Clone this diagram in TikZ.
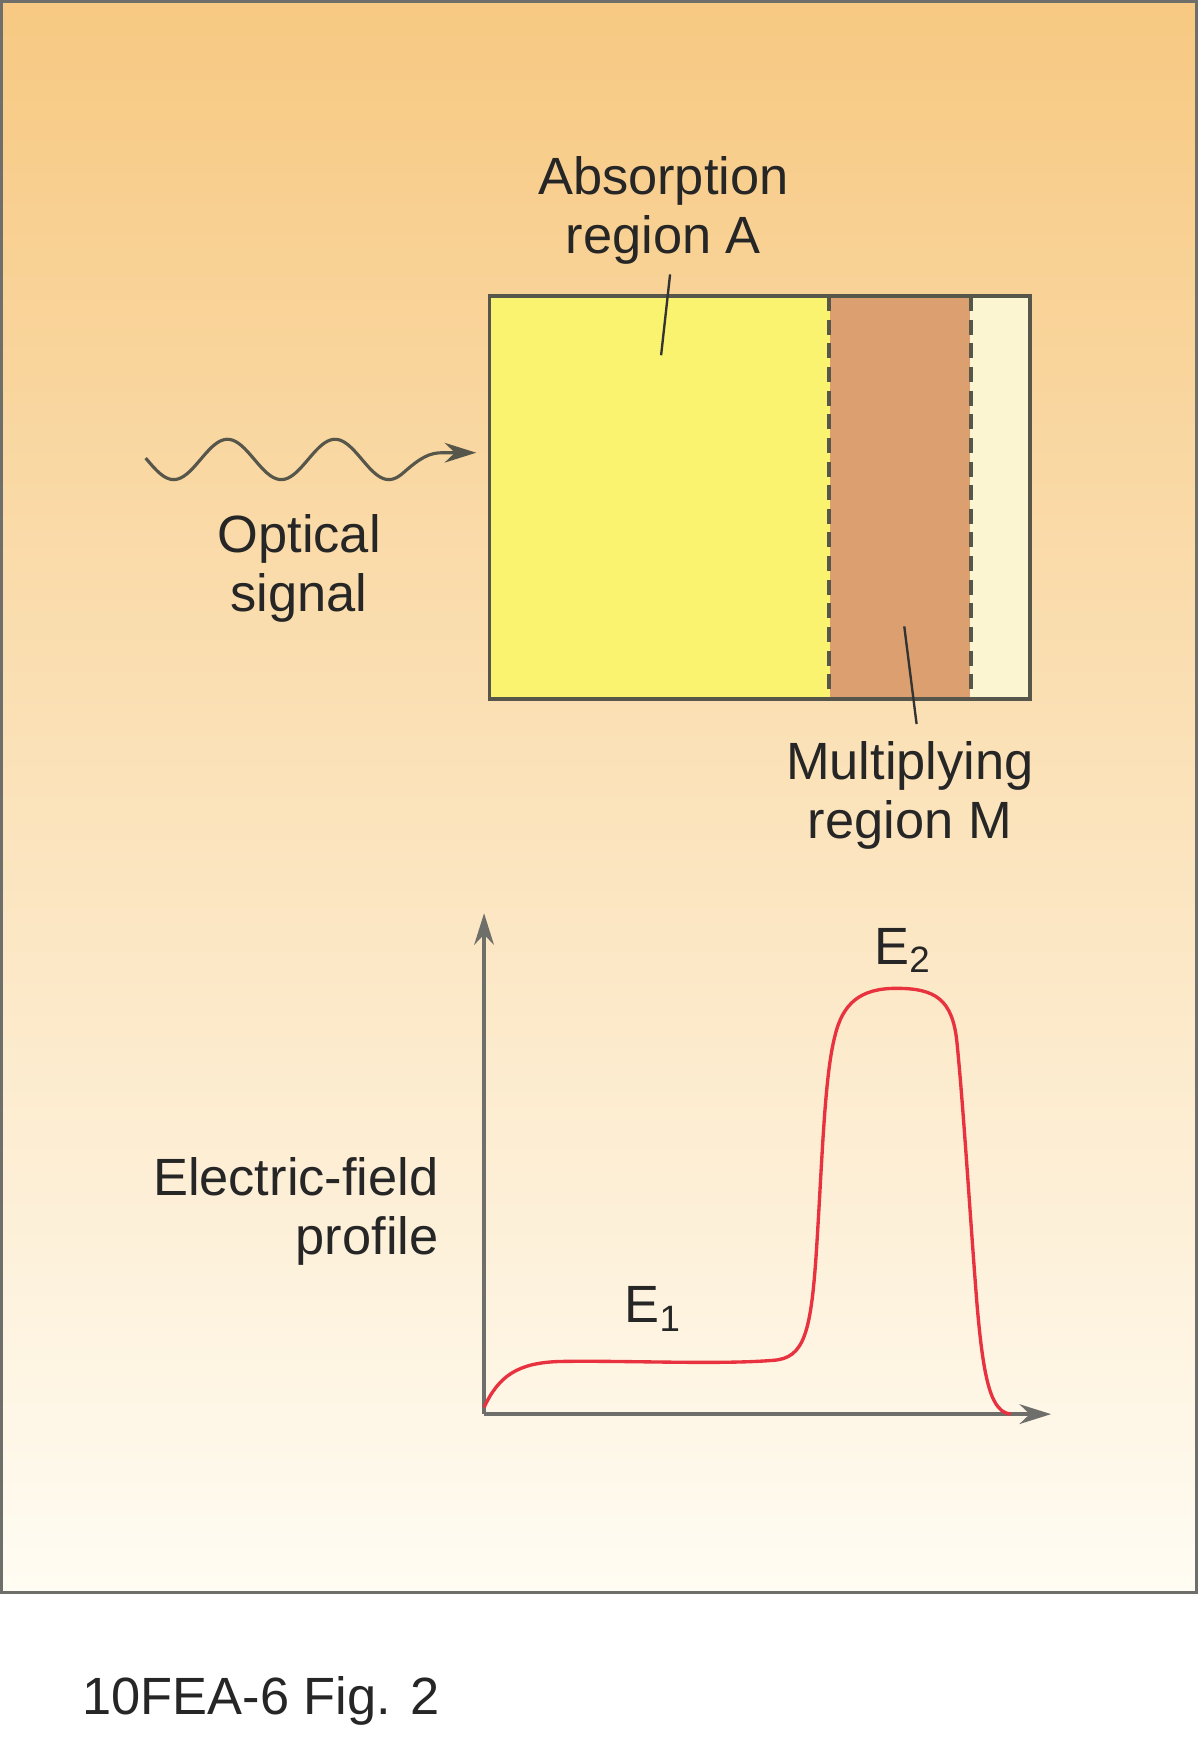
\documentclass[tikz,border=0pt]{standalone}
\usepackage{fontspec}
\setmainfont{Liberation Sans}
\usepackage{tikz}
\usetikzlibrary{arrows.meta,positioning,calc}
\usepackage{xcolor}
\definecolor{bgTopColor}{HTML}{F7C982}
\definecolor{bgBottomColor}{HTML}{FFFCF3}
\definecolor{absorbColor}{HTML}{FAF36F}
\definecolor{multColor}{HTML}{DCA070}
\definecolor{capColor}{HTML}{FBF5D2}
\definecolor{edgeColor}{HTML}{57564A}
\definecolor{axisColor}{HTML}{6E6E6A}
\definecolor{fieldColor}{HTML}{E8323F}
\tikzset{
  textNode/.style = {align=center, inner sep=0pt, text=black!85,
    font=\fontsize{13.3}{15}\selectfont},
  layerNode/.style = {inner sep=0pt, minimum height=3.58cm},% couches de la photodiode
  edgeLine/.style = {edgeColor, line width=0.85pt},
  sepLine/.style = {edgeColor, line width=1.1pt, dash pattern=on 3.8pt off 2.2pt},
  leaderLine/.style = {black!80, line width=0.6pt},
  axisLine/.style = {axisColor, line width=0.9pt},
  fieldCurve/.style = {fieldColor, line width=0.85pt},
}

\begin{document}
\begin{tikzpicture}[x=0.01cm, y=-0.01cm, >={Stealth[length=8pt,width=5pt]}]
\useasboundingbox (0,0) rectangle (1071,1568);
\fill[white] (0,0) rectangle (1071,1568);
% panneau en degrade
\shade[top color=bgTopColor, bottom color=bgBottomColor] (1,1) rectangle (1068,1421);
\draw[axisColor, line width=0.8pt] (1,1) rectangle (1068,1421);

% couches
\node [layerNode, fill=absorbColor, minimum width=3.033cm] (absorb) at (589.2,444) {};
\node [layerNode, fill=multColor, minimum width=1.252cm] (mult) at (803.4,444) {};
\node [layerNode, fill=capColor, minimum width=0.525cm] (cap) at (892.3,444) {};
\draw[edgeLine] (absorb.north west) rectangle (cap.south east);
\draw[sepLine] (mult.north west) -- (mult.south west);
\draw[sepLine] (mult.north east) -- (mult.south east);

% etiquettes
\node [textNode] (absorbLabel) at (592,188) {Absorption\\region A};
\node [textNode] (multLabel) at (812,710) {Multiplying\\region M};
\coordinate (absorbTip) at (590,317);
\coordinate (multTip) at (807,559);
\draw[leaderLine] ([xshift=0.06cm,yshift=-0.08cm]absorbLabel.south) -- (absorbTip);
\draw[leaderLine] (multTip) -- ([xshift=0.06cm,yshift=0.15cm]multLabel.north);

% signal optique
\coordinate (waveEnd) at (425,404);
\draw[edgeLine, line width=0.8pt, ->] plot[domain=130:360, samples=90, smooth] (\x, {410+18*cos(3.75*(\x-155))})
    .. controls (375,408.6) and (383,404) .. (395,404) -- (waveEnd);
\node [textNode] (opticalLabel) at (267,507) {Optical\\signal};

% profil du champ electrique
\coordinate (origin) at (432,1262);
\coordinate (yEnd) at (432,815);
\coordinate (xEnd) at (938,1262);
\draw[axisLine, ->] (origin) -- (yEnd);
\draw[axisLine, ->] (origin) -- (xEnd);
\draw[fieldCurve] (432,1256) .. controls (445,1228) and (462,1216) .. (500,1215)
    .. controls (560,1214) and (640,1218) .. (690,1214)
    .. controls (718,1212) and (724,1190) .. (729,1110)
    .. controls (734,1030) and (736,960) .. (745,925)
    .. controls (752,895) and (768,882) .. (800,882)
    .. controls (835,882) and (850,892) .. (854,930)
    .. controls (860,990) and (866,1090) .. (872,1165)
    .. controls (878,1235) and (885,1260) .. (902,1262);
\node [textNode, align=right, anchor=east] (fieldLabel) at (392,1081) {Electric-field\\profile};
\node [textNode] (lowLabel) at (583,1168) {E\textsubscript{1}};
\node [textNode] (highLabel) at (806,848) {E\textsubscript{2}};

\node [textNode, anchor=west] (caption) at (73,1518) {10FEA-6 Fig. 2};
\end{tikzpicture}
\end{document}
